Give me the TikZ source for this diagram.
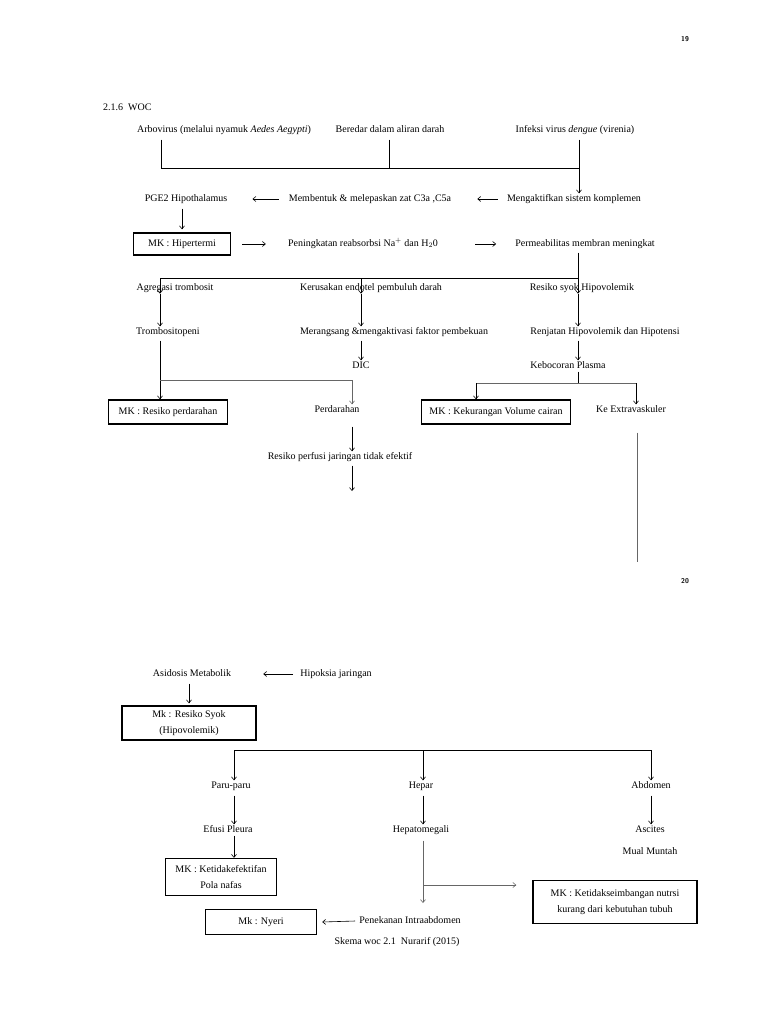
\documentclass[tikz,border=0pt]{standalone}
\usepackage{fontspec}
\setmainfont{Liberation Serif}
\usepackage{tikz}
\usetikzlibrary{arrows.meta}

\tikzset{
  txt/.style={inner sep=1pt, text height=7pt, text depth=2pt, font=\fontsize{10}{12}\selectfont},
  mk/.style={draw, line width=1.4pt, inner sep=3pt, align=center, font=\fontsize{10}{16.5}\selectfont},
  pgnum/.style={inner sep=1pt, font=\sffamily\bfseries\fontsize{7}{8}\selectfont},
  arr/.style={-{Straight Barb[length=3pt,width=5pt]}, line width=0.6pt},
  ln/.style={line width=0.6pt},
  pale/.style={draw=black!60}
}

\begin{document}
\begin{tikzpicture}[x=1pt,y=-1pt]
\useasboundingbox (0,0) rectangle (768,1024);

% halaman 19
\node[pgnum] (p19) at (685,39) {19};
\node[txt, anchor=west] (judul) at (102,108) {2.1.6\ \ WOC};

\node[txt] (arbo) at (224,130) {Arbovirus (melalui nyamuk \textit{Aedes Aegypti})};
\node[txt] (beredar) at (390,130) {Beredar dalam aliran darah};
\node[txt] (infeksi) at (575,130) {Infeksi virus \textit{dengue} (virenia)};

\coordinate (a1) at (161,168);
\coordinate (a2) at (389,168);
\coordinate (a3) at (579,168);

\node[txt] (pge) at (186,199) {PGE2 Hipothalamus};
\node[txt] (membentuk) at (370,199) {Membentuk \& melepaskan zat C3a ,C5a};
\node[txt] (komplemen) at (574,199) {Mengaktifkan sistem komplemen};

\draw[ln] (a1 |- arbo.south) ++(0,4) -- (a1) -- (a3);
\draw[ln] (a2 |- beredar.south) ++(0,4) -- (a2);
\draw[arr, shorten <=4pt] (a3 |- infeksi.south) -- (a3 |- komplemen.north);

\draw[arr] ([xshift=-8pt]komplemen.west) -- ([xshift=25pt]membentuk.east);
\draw[arr] ([xshift=-9pt]membentuk.west) -- ([xshift=24pt]pge.east);

\node[mk, minimum width=97pt, minimum height=22pt] (hiper) at (182,244) {MK : Hipertermi};
\node[txt] (reabs) at (363,244) {Peningkatan reabsorbsi Na$^{+}$ dan H$_{2}$0};
\node[txt] (permeab) at (585,244) {Permeabilitas membran meningkat};

\draw[arr, shorten <=4pt, shorten >=3pt] (hiper.north |- pge.south) -- (hiper.north);
\draw[arr] ([xshift=11pt]hiper.east) -- ([xshift=-21pt]reabs.west);
\draw[arr] ([xshift=36pt]reabs.east) -- ([xshift=-18pt]permeab.west);

\coordinate (b1) at (160,278);
\coordinate (b2) at (361,278);
\coordinate (b3) at (578,278);
\draw[ln, shorten <=3pt] (b3 |- permeab.south) -- (b3) -- (b1);

\node[txt] (agreg) at (175,288) {Agregasi trombosit};
\node[txt] (kerusakan) at (371,288) {Kerusakan endotel pembuluh darah};
\node[txt] (resiko) at (582,288) {Resiko syok Hipovolemik};

\node[txt] (trombo) at (168,332) {Trombositopeni};
\node[txt] (merangsang) at (394,332) {Merangsang \&mengaktivasi faktor pembekuan};
\node[txt] (renjatan) at (605,332) {Renjatan Hipovolemik dan Hipotensi};

\foreach \b in {b1,b2,b3} {
  \draw[arr] (\b) -- (\b |- agreg.south);
  \draw[arr] (\b |- agreg.south) -- (\b |- trombo.north);
}

\node[txt] (dic) at (361,366) {DIC};
\node[txt] (kebocoran) at (568,366) {Kebocoran Plasma};

\node[mk, minimum width=119pt, minimum height=24pt] (perdbox) at (168,412) {MK : Resiko perdarahan};
\node[txt] (perdarahan) at (337,410) {Perdarahan};
\node[mk, minimum width=149pt, minimum height=24pt] (kurang) at (496,412) {MK : Kekurangan Volume cairan};
\node[txt] (extra) at (631,410) {Ke Extravaskuler};

\coordinate (b4) at (160,380);
\coordinate (b5) at (352,380);
\draw[arr, shorten <=3pt] (b1 |- trombo.south) -- (b1 |- perdbox.north);
\draw[ln, pale] (b4) -- (b5);
\draw[arr, pale] (b5) -- (b5 |- perdarahan.north);

\draw[arr, shorten <=3pt] (b2 |- merangsang.south) -- (b2 |- dic.north);
\draw[arr, shorten <=3pt] (b3 |- renjatan.south) -- (b3 |- kebocoran.north);

\coordinate (b6) at (578,383);
\coordinate (b7) at (476,383);
\coordinate (b8) at (636,383);
\draw[ln] (b3 |- kebocoran.south) -- (b6);
\draw[ln, pale] (b7) -- (b8);
\draw[arr] (b7) -- (b7 |- kurang.north);
\draw[arr] (b8) -- (b8 |- extra.north);

\node[txt] (perfusi) at (340,457) {Resiko perfusi jaringan tidak efektif};
\coordinate (b9) at (352,491);
\draw[arr, shorten <=11pt] (b5 |- perdarahan.south) -- (b5 |- perfusi.north);
\draw[arr, shorten <=3pt] (b5 |- perfusi.south) -- (b9);

\coordinate (b10) at (637,562);
\draw[ln, pale, shorten <=17pt] (b10 |- extra.south) -- (b10);

% halaman 20
\node[pgnum] (p20) at (685,581) {20};

\node[txt] (asidosis) at (192,674) {Asidosis Metabolik};
\node[txt] (hipoksia) at (336,674) {Hipoksia jaringan};
\draw[arr] ([xshift=-6pt]hipoksia.west) -- ([xshift=31pt]asidosis.east);

\node[mk, minimum width=134pt, minimum height=34pt] (syok) at (189,723) {Mk : Resiko Syok\\(Hipovolemik)};
\draw[arr, shorten <=4pt, shorten >=2pt] (syok.north |- asidosis.south) -- (syok.north);

\coordinate (d1) at (234,750);
\coordinate (d2) at (423,750);
\coordinate (d3) at (651,750);
\draw[ln] (d1) -- (d3);

\node[txt] (paru) at (231,786) {Paru-paru};
\node[txt] (hepar) at (421,786) {Hepar};
\node[txt] (abdomen) at (651,786) {Abdomen};

\node[txt] (efusi) at (228,830) {Efusi Pleura};
\node[txt] (hepato) at (421,830) {Hepatomegali};
\node[txt] (ascites) at (650,830) {Ascites};
\node[txt] (mual) at (650,852) {Mual Muntah};

\foreach \d in {d1,d2,d3} {
  \draw[arr] (\d) -- (\d |- paru.north);
  \draw[arr, shorten <=4pt] (\d |- paru.south) -- (\d |- efusi.north);
}

\node[mk, minimum width=111pt, minimum height=37pt] (nafas) at (221,877) {MK : Ketidakefektifan\\Pola nafas};
\node[mk, minimum width=164pt, minimum height=43pt] (nutrisi) at (615,902) {MK : Ketidakseimbangan nutrsi\\kurang dari kebutuhan tubuh};
\node[txt] (penekanan) at (410,921) {Penekanan Intraabdomen};
\node[mk, minimum width=111pt, minimum height=25pt] (nyeri) at (261,922) {Mk : Nyeri};

\draw[arr] (d1 |- efusi.south) -- (d1 |- nafas.north);

\coordinate (d4) at (423,903);
\coordinate (d5) at (423,885);
\draw[arr, pale, shorten <=5pt] (d2 |- hepato.south) -- (d4);
\draw[arr, pale, shorten >=16pt] (d5) -- (nutrisi.west |- d5);
\draw[arr] ([xshift=-3pt]penekanan.west) -- ([xshift=5pt]nyeri.east);

\node[txt] (skema) at (397,942) {Skema woc 2.1\ \ Nurarif (2015)};
\end{tikzpicture}
\end{document}
